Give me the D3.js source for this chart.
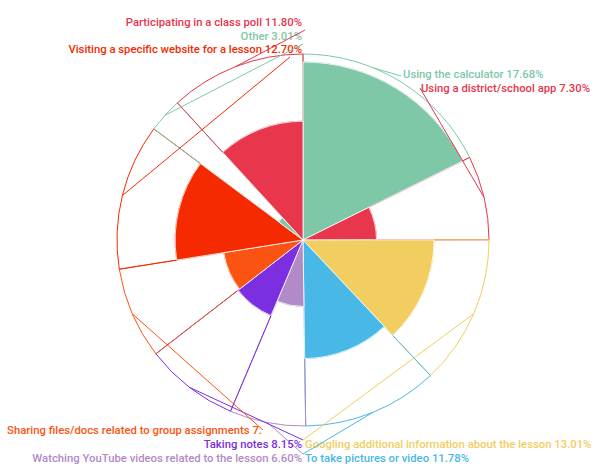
<!DOCTYPE html>
<html><head><meta charset="utf-8">
<script src="https://cdn.jsdelivr.net/npm/d3@7"></script>
<style>body{margin:0;background:#fff}text{font-family:Roboto,sans-serif;font-size:11.3px;font-weight:500}</style>
</head><body><svg id="c" width="600" height="472"></svg>
<script>
var labels = ['Using the calculator', 'Using a district/school app', 'Googling additional information about the lesson',
  'To take pictures or video', 'Watching YouTube videos related to the lesson', 'Taking notes',
  'Sharing files/docs related to group assignments', 'Visiting a specific website for a lesson', 'Other',
  'Participating in a class poll'];
var shares = [17.68, 7.30, 13.01, 11.78, 6.60, 8.15, 7.97, 12.70, 3.01, 11.80];
var heights = [17.68, 7.30, 13.01, 11.78, 6.60, 8.15, 7.97, 12.70, 3.01, 11.80];
var colors = ['#7ec8a8', '#e8364d', '#f2cd5f', '#48b8e6', '#b28ac7', '#7b2fe0', '#fb5412', '#f52a00', '#7ec8a8', '#e8364d'];

// label placement: [x, y, anchor]
var labelPos = [[403, 78, 'start'], [590, 92, 'end'], [305, 448, 'start'], [305, 462, 'start'], [302, 462, 'end'],
  [302, 448, 'end'], [262, 434, 'end'], [302, 53, 'end'], [302, 40, 'end'], [302, 26, 'end']];
// where each leader line meets the label
var leadEnd = [[401, 76], [420, 88], [303, 440], [303, 454], [303, 454], [303, 440], [263, 430], [290, 57], [303, 44], [305, 30]];

var svg = d3.select('#c');
var g = svg.append('g').attr('transform', 'translate(303,240)');
var r = d3.scaleLinear().domain([0, 17.68]).range([0, 178]);
var R = 186;

var pie = d3.pie().sort(null).value(function(d) { return d; });
var arcs = pie(shares);
var arc = d3.arc();

arcs.forEach(function(a, i) {
  var inner = Math.max(r(heights[i]), 1);
  g.append('path')
    .attr('d', arc({innerRadius: inner, outerRadius: R, startAngle: a.startAngle, endAngle: a.endAngle}))
    .attr('fill', 'none').attr('stroke', colors[i]).attr('stroke-width', 1);
});
arcs.forEach(function(a, i) {
  g.append('path')
    .attr('d', arc({innerRadius: 0, outerRadius: r(heights[i]), startAngle: a.startAngle, endAngle: a.endAngle}))
    .attr('fill', colors[i]).attr('stroke', '#fff').attr('stroke-width', 0.8);
});

// leader lines and labels
arcs.forEach(function(a, i) {
  var ang = i === 0 ? a.startAngle + (a.endAngle - a.startAngle) * 0.35 : (a.startAngle + a.endAngle) / 2;
  var px = 303 + Math.sin(ang) * R, py = 240 - Math.cos(ang) * R;
  var e = leadEnd[i];
  svg.append('line').attr('x1', px).attr('y1', py).attr('x2', e[0]).attr('y2', e[1])
    .attr('stroke', colors[i]).attr('stroke-width', 1);
  var p = labelPos[i];
  var txt = labels[i] + ' ' + shares[i].toFixed(2) + '%';
  if (i === 6) txt = labels[i] + ' 7.';
  svg.append('text').attr('x', p[0]).attr('y', p[1]).attr('text-anchor', p[2])
    .attr('fill', colors[i]).text(txt);
});
</script></body></html>
